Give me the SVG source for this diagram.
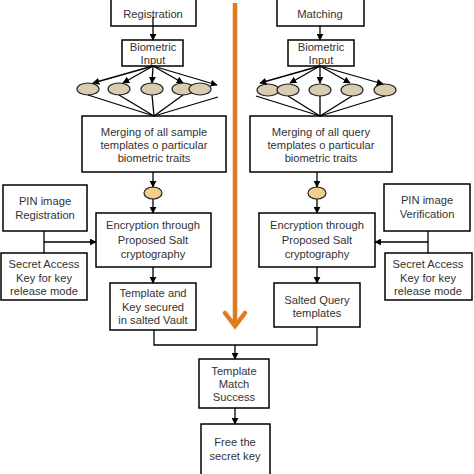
<svg xmlns="http://www.w3.org/2000/svg" width="474" height="474" viewBox="0 0 474 474">
<defs>
<marker id="ah" viewBox="0 0 10 10" refX="9" refY="5" markerWidth="7" markerHeight="7" orient="auto" markerUnits="userSpaceOnUse">
<path d="M0,0 L10,5 L0,10 Z" fill="#000"/>
</marker>
<style>
.box{fill:#fff;stroke:#000;stroke-width:1.5}
.t{font-family:"Liberation Sans",Arial,sans-serif;font-size:11.2px;fill:#333;text-anchor:middle}
.c{stroke:#000;stroke-width:1.3;fill:none}
.a{stroke:#000;stroke-width:1.3;fill:none;marker-end:url(#ah)}
.e{fill:#d9ccb0;stroke:#222;stroke-width:1.2}
.e2{fill:#f3cd8e;stroke:#222;stroke-width:1.2}
</style>
</defs>
<rect width="474" height="474" fill="#fff"/>

<g id="registration"><rect class="box" x="111" y="-1" width="85" height="27"/><text class="t" x="153" y="18">Registration</text></g>
<g id="matching"><rect class="box" x="277" y="-1" width="87" height="27"/><text class="t" x="320" y="18">Matching</text></g>

<g id="bio-left"><rect class="box" x="122" y="40" width="61" height="26"/><text class="t" x="153" y="51">Biometric</text><text class="t" x="153" y="64">Input</text></g>
<g id="bio-right"><rect class="box" x="288" y="40" width="66" height="26"/><text class="t" x="321" y="51">Biometric</text><text class="t" x="321" y="64">Input</text></g>

<g id="samples-left">
<ellipse class="e" cx="88" cy="89" rx="11" ry="6"/>
<ellipse class="e" cx="119" cy="89" rx="11" ry="6"/>
<ellipse class="e" cx="152" cy="89" rx="11" ry="6"/>
<ellipse class="e" cx="183" cy="89" rx="11" ry="6"/>
<ellipse class="e" cx="200" cy="89" rx="11" ry="6"/>
</g>
<g id="samples-right">
<ellipse class="e" cx="268" cy="90" rx="11" ry="6"/>
<ellipse class="e" cx="288" cy="90" rx="11" ry="6"/>
<ellipse class="e" cx="320" cy="90" rx="11" ry="6"/>
<ellipse class="e" cx="352" cy="90" rx="11" ry="6"/>
<ellipse class="e" cx="385" cy="90" rx="11" ry="6"/>
</g>

<g id="merge-left"><rect class="box" x="82" y="116" width="144" height="56"/><text class="t" x="154" y="136">Merging of all  sample</text><text class="t" x="154" y="149">templates o particular</text><text class="t" x="154" y="162">biometric traits</text></g>
<g id="merge-right"><rect class="box" x="250" y="116" width="142" height="56"/><text class="t" x="321" y="136">Merging of all  query</text><text class="t" x="321" y="149">templates o particular</text><text class="t" x="321" y="162">biometric traits</text></g>

<g id="merged-left"><ellipse class="e2" cx="153" cy="193" rx="9" ry="6"/></g>
<g id="merged-right"><ellipse class="e2" cx="317" cy="193" rx="9" ry="6"/></g>

<g id="pin-reg"><rect class="box" x="3" y="185" width="84" height="46"/><text class="t" x="45" y="205">PIN image</text><text class="t" x="45" y="219">Registration</text></g>
<g id="pin-ver"><rect class="box" x="384" y="184" width="86" height="47"/><text class="t" x="427" y="204">PIN image</text><text class="t" x="427" y="218">Verification</text></g>

<g id="enc-left"><rect class="box" x="96" y="213" width="115" height="54"/><text class="t" x="153" y="229">Encryption through</text><text class="t" x="153" y="244">Proposed Salt</text><text class="t" x="153" y="258">cryptography</text></g>
<g id="enc-right"><rect class="box" x="259" y="213" width="116" height="54"/><text class="t" x="317" y="229">Encryption through</text><text class="t" x="317" y="244">Proposed Salt</text><text class="t" x="317" y="258">cryptography</text></g>

<g id="secret-left"><rect class="box" x="1" y="253" width="86" height="47"/><text class="t" x="44" y="268">Secret Access</text><text class="t" x="44" y="282">Key for key</text><text class="t" x="44" y="295">release mode</text></g>
<g id="secret-right"><rect class="box" x="385" y="253" width="87" height="47"/><text class="t" x="428" y="268">Secret Access</text><text class="t" x="428" y="282">Key for key</text><text class="t" x="428" y="295">release mode</text></g>

<g id="vault"><rect class="box" x="110" y="283" width="86" height="47"/><text class="t" x="153" y="297">Template and</text><text class="t" x="153" y="311">Key secured</text><text class="t" x="153" y="324">in salted Vault</text></g>
<g id="salted-query"><rect class="box" x="274" y="283" width="86" height="44"/><text class="t" x="317" y="304">Salted Query</text><text class="t" x="317" y="317">templates</text></g>

<g id="match"><rect class="box" x="199" y="359" width="70" height="49"/><text class="t" x="234" y="375">Template</text><text class="t" x="234" y="388">Match</text><text class="t" x="234" y="401">Success</text></g>
<g id="free"><rect class="box" x="201" y="424" width="69" height="52"/><text class="t" x="235" y="446">Free the</text><text class="t" x="235" y="460">secret key</text></g>

<g id="connectors">
<line class="a" x1="153" y1="17" x2="153" y2="40"/>
<line class="a" x1="320" y1="26" x2="320" y2="40"/>
<line class="a" x1="153" y1="66" x2="93" y2="83"/>
<line class="a" x1="153" y1="66" x2="123" y2="83"/>
<line class="a" x1="153" y1="66" x2="152" y2="83"/>
<line class="a" x1="153" y1="66" x2="183" y2="83"/>
<line class="a" x1="153" y1="66" x2="217" y2="85"/>
<line class="c" x1="88" y1="95" x2="154" y2="116"/>
<line class="c" x1="119" y1="95" x2="154" y2="116"/>
<line class="c" x1="152" y1="95" x2="154" y2="116"/>
<line class="c" x1="183" y1="95" x2="154" y2="116"/>
<line class="c" x1="218" y1="97" x2="154" y2="116"/>
<line class="a" x1="320" y1="66" x2="260" y2="83"/>
<line class="a" x1="320" y1="66" x2="290" y2="83"/>
<line class="a" x1="320" y1="66" x2="320" y2="83"/>
<line class="a" x1="320" y1="66" x2="350" y2="83"/>
<line class="a" x1="320" y1="66" x2="383" y2="84"/>
<line class="c" x1="256" y1="96" x2="320" y2="116"/>
<line class="c" x1="288" y1="96" x2="320" y2="116"/>
<line class="c" x1="320" y1="96" x2="320" y2="116"/>
<line class="c" x1="352" y1="96" x2="320" y2="116"/>
<line class="c" x1="385" y1="96" x2="320" y2="116"/>
<line class="a" x1="153" y1="172" x2="153" y2="187"/>
<line class="a" x1="153" y1="199" x2="153" y2="213"/>
<line class="a" x1="317" y1="172" x2="317" y2="187"/>
<line class="a" x1="317" y1="199" x2="317" y2="213"/>
<line class="c" x1="44" y1="231" x2="44" y2="253"/>
<line class="a" x1="44" y1="242" x2="96" y2="242"/>
<line class="c" x1="428" y1="231" x2="428" y2="253"/>
<line class="a" x1="428" y1="242" x2="375" y2="242"/>
<line class="a" x1="153" y1="267" x2="153" y2="283"/>
<line class="a" x1="317" y1="267" x2="317" y2="283"/>
<polyline class="c" points="154,330 154,345 317,345 317,327"/>
<line class="a" x1="235" y1="345" x2="235" y2="359"/>
<line class="a" x1="235" y1="408" x2="235" y2="424"/>
<line x1="235" y1="3" x2="235" y2="325" stroke="#e07a1f" stroke-width="4.5"/>
<polyline points="225,313 235,326 245,313" fill="none" stroke="#e07a1f" stroke-width="4.5" stroke-linejoin="miter" stroke-linecap="round"/>
</g>
</svg>
